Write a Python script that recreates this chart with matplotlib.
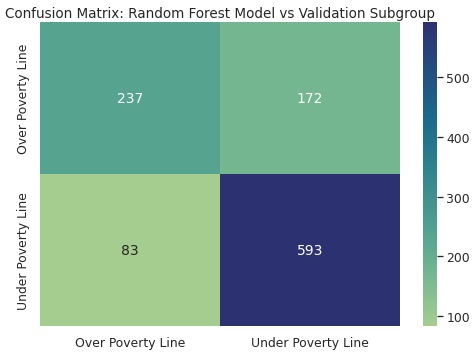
import numpy as np
import matplotlib
matplotlib.use("Agg")
import matplotlib.pyplot as plt
import seaborn as sns

labels = ["Over Poverty Line", "Under Poverty Line"]
counts = np.array([[237, 172],
                   [83, 593]])

sns.set_theme(font_scale=1.1)
fig = plt.figure(figsize=(6.4, 4.77), dpi=74)
ax = fig.add_axes([40 / 474, 26 / 353, 360 / 474, 304 / 353])
cax = fig.add_axes([423 / 474, 26 / 353, 14 / 474, 304 / 353])

sns.heatmap(counts, annot=True, fmt="d", cmap="crest",
            xticklabels=labels, yticklabels=labels,
            ax=ax, cbar_ax=cax, annot_kws={"size": 13.5})
ax.set_title("Confusion Matrix: Random Forest Model vs Validation Subgroup",
             fontsize=13.2, pad=5)

fig.savefig("out.png", dpi=74)
